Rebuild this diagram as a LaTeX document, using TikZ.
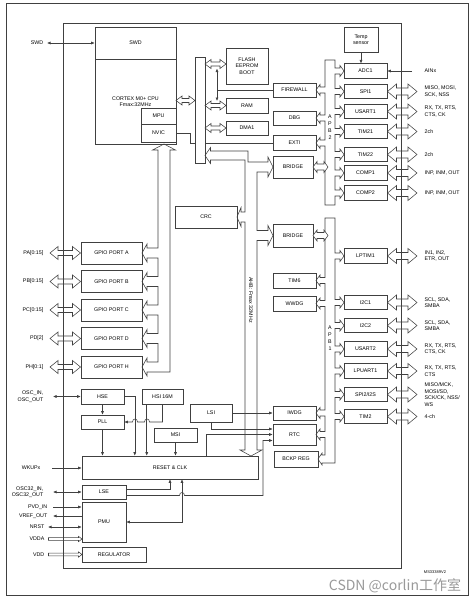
\documentclass[tikz,border=0pt]{standalone}
\usepackage{fontspec}
\setmainfont{Liberation Sans}
\newfontfamily\cjk{Noto Sans CJK SC}
\usetikzlibrary{arrows.meta}

\tikzset{
  ln/.style={draw=black!75, line width=0.55pt},
  blk/.style 2 args={ln, fill=white, inner sep=0pt, minimum width=#1, minimum height=#2,
    font=\fontsize{5.3}{6.4}\selectfont, align=center},
  lbl/.style={inner sep=0.5pt, font=\fontsize{5.3}{6.6}\selectfont},
  sig/.style={ln, -{Latex[length=3.5pt,width=3pt]}},
  sigs/.style={ln, {Latex[length=3.5pt,width=3pt]}-{Latex[length=3.5pt,width=3pt]}},
  hol/.style={ln, line join=miter},
}
% hollow double arrow: x1, x2, y, head length, head half width, shaft half width
\newcommand{\dblarr}[7][]{\draw[hol,#1] (#2,#4) -- ({#2+#5},{#4-#6}) -- ({#2+#5},{#4-#7})
  -- ({#3-#5},{#4-#7}) -- ({#3-#5},{#4-#6}) -- (#3,#4) -- ({#3-#5},{#4+#6})
  -- ({#3-#5},{#4+#7}) -- ({#2+#5},{#4+#7}) -- ({#2+#5},{#4+#6}) -- cycle;}
% thin hollow supply arrow: x1, x2, y
\newcommand{\supply}[3]{\draw[hol] (#1,{#3-1.3}) -- ({#2-3.5},{#3-1.3}) -- ({#2-3.5},{#3-2.6})
  -- (#2,#3) -- ({#2-3.5},{#3+2.6}) -- ({#2-3.5},{#3+1.3}) -- (#1,{#3+1.3}) -- cycle;}

\begin{document}
\begin{tikzpicture}[x=1pt,y=-1pt]
\useasboundingbox (0,0) rectangle (474,600);
% frames
\draw[ln] (6,3) rectangle (468,595);
\draw[ln] (63,23) rectangle (401,568);

% core and memories
\node[blk={81pt}{32pt}] (swd) at (135.5,43) {SWD};
\node[blk={81pt}{85pt}] (cpu) at (135.5,101.5) {CORTEX M0+ CPU\\Fmax:32MHz};
\node[blk={35pt}{16pt}] (mpu) at (158.5,116) {MPU};
\node[blk={35pt}{18pt}] (nvic) at (158.5,133) {NVIC};
\node[blk={42pt}{36pt}] (flash) at (247,66) {FLASH\\EEPROM\\BOOT};
\node[blk={42pt}{15pt}] (ram) at (247,105.5) {RAM};
\node[blk={42pt}{14pt}] (dma) at (247,128) {DMA1};
\node[blk={43pt}{14pt}] (firewall) at (294.5,90) {FIREWALL};
\node[blk={43pt}{14pt}] (dbg) at (294.5,118) {DBG};
\node[blk={43pt}{15pt}] (exti) at (294.5,143) {EXTI};
\node[blk={40pt}{22pt}] (bridgea) at (293,167) {BRIDGE};
\node[blk={62pt}{22pt}] (crc) at (206,217) {CRC};
\node[blk={40pt}{23pt}] (bridgeb) at (293,235.5) {BRIDGE};
\node[blk={43pt}{15pt}] (tim6) at (294.5,280.5) {TIM6};
\node[blk={43pt}{15pt}] (wwdg) at (294.5,303.5) {WWDG};
\node[blk={43pt}{14pt}] (iwdg) at (294.5,413) {IWDG};
\node[blk={43pt}{21pt}] (rtc) at (294.5,434.5) {RTC};
\node[blk={44pt}{16pt}] (bckp) at (296,459) {BCKP REG};

% NVIC to EXTI, under the bus bar
\draw[ln] (nvic.east) -- ++(14,0) |- (exti.west);
\node[blk={10pt}{106pt}] (bar) at (200,110) {};

\dblarr{176}{195}{100.5}{6}{4.5}{2}
\dblarr{205}{226}{64}{6}{4.5}{2}
\dblarr{205}{226}{105.5}{6}{4.5}{2}
\dblarr{205}{226}{128}{6}{4.5}{2}
\coordinate (fr1) at (217,68.5);
\coordinate (fr2) at (217,101);
\draw[sigs] (fr1) -- (fr2);
\draw[ln] (fr1 |- firewall.west) -- (firewall.west);

% AHB
\draw[hol] (210.5,151) -- (248,151) -- (248,162) -- (268,162) -- (268,157) -- (273,167)
  -- (268,177) -- (268,172) -- (257,172) -- (257,230.5) -- (268,230.5) -- (268,225.5)
  -- (273,235.5) -- (268,245.5) -- (268,240.5) -- (257,240.5) -- (257,450) -- (262,450)
  -- (251,456) -- (240,450) -- (245,450) -- (245,222) -- (241,222) -- (241,226.5)
  -- (237,217) -- (241,207.5) -- (241,212) -- (245,212) -- (245,160) -- (210.5,160)
  -- (210.5,163.5) -- (205,155.5) -- (210.5,147.5) -- cycle;
\node[lbl, rotate=-90] (ahb) at (251,300) {AHB: Fmax 32MHz};

% APB2
\draw[hol] (325,60) -- (335,60)
  foreach \c in {71,91.5,111.5,131.5,154.5,173,193} { -- (335,\c-3) -- (340,\c-3)
    -- (340,\c-5.5) -- (344,\c) -- (340,\c+5.5) -- (340,\c+3) -- (335,\c+3) }
  -- (335,205) -- (325,205)
  foreach \c in {143,118,90} { -- (325,\c+3) -- (320,\c+3) -- (320,\c+5.5) -- (316,\c)
    -- (320,\c-5.5) -- (320,\c-3) -- (325,\c-3) } -- cycle;
\dblarr[fill=white]{313}{328}{167}{4}{5.5}{3}
\node[lbl, align=center, inner sep=0pt, font=\fontsize{5.3}{6.8}\selectfont] (apbb) at (330,127) {A\\P\\B\\2};

% APB1
\draw[hol] (335,218) -- (325,218)
  foreach \c in {280.5,303.5,413,434.5} { -- (325,\c-3) -- (320,\c-3) -- (320,\c-5.5)
    -- (316,\c) -- (320,\c+5.5) -- (320,\c+3) -- (325,\c+3) }
  -- (325,455) -- (322,455) -- (322,453) -- (318,459) -- (322,465) -- (322,463) -- (335,463)
  foreach \c in {416.5,394.5,371,349,325.5,302.5,256} { -- (335,\c+3) -- (340,\c+3)
    -- (340,\c+5.5) -- (344,\c) -- (340,\c-5.5) -- (340,\c-3) -- (335,\c-3) } -- cycle;
\dblarr[fill=white]{313}{328}{235.5}{4}{5.5}{3}
\node[lbl, align=center, inner sep=0pt, font=\fontsize{5.3}{6.8}\selectfont] (apba) at (330,338) {A\\P\\B\\1};

% APB peripherals
\node[blk={34pt}{25pt}] (temp) at (361,39.5) {Temp\\sensor};
\foreach \n/\t/\y in {adc/ADC1/71, spi1/SPI1/91.5, usart1/USART1/111.5, tim21/TIM21/131.5,
    tim22/TIM22/154.5, comp1/COMP1/173, comp2/COMP2/193, lptim/LPTIM1/256, i2c1/I2C1/302.5,
    i2c2/I2C2/325.5, usart2/USART2/349, lpuart/LPUART1/371, spitwo/{SPI2/I2S}/394.5, tim2/TIM2/416.5}
  \node[blk={43pt}{14.5pt}] (\n) at (365.5,\y) {\t};
\draw[sig] (temp.south) -- (temp.south |- adc.north);
\foreach \y in {91.5,111.5,131.5,154.5,173,193,256,302.5,325.5,349,371,394.5,416.5}
  \dblarr{387.5}{417}{\y}{9}{7.5}{3.5};

% right pins
\node[lbl, anchor=west] (pain) at (424,71) {AINx};
\draw[sig] ([xshift=-12pt]pain.west) -- (adc.east);
\node[lbl, anchor=west, align=left] (pspi1) at (424,91.5) {MISO, MOSI,\\SCK, NSS};
\node[lbl, anchor=west, align=left] (pusart1) at (424,111.5) {RX, TX, RTS,\\CTS, CK};
\node[lbl, anchor=west] (ptim21) at (424,131.5) {2ch};
\node[lbl, anchor=west] (ptim22) at (424,154.5) {2ch};
\node[lbl, anchor=west] (pcomp1) at (424,173) {INP, INM, OUT};
\node[lbl, anchor=west] (pcomp2) at (424,193) {INP, INM, OUT};
\node[lbl, anchor=west, align=left] (plptim) at (424,256) {IN1, IN2,\\ETR, OUT};
\node[lbl, anchor=west, align=left] (pi2c1) at (424,302.5) {SCL, SDA,\\SMBA};
\node[lbl, anchor=west, align=left] (pi2c2) at (424,325.5) {SCL, SDA,\\SMBA};
\node[lbl, anchor=west, align=left] (pusart2) at (424,349) {RX, TX, RTS,\\CTS, CK};
\node[lbl, anchor=west, align=left] (plpuart) at (424,371) {RX, TX, RTS,\\CTS};
\node[lbl, anchor=west, align=left] (pspi2) at (424,394.5) {MISO/MCK,\\MOSI/SD,\\SCK/CK, NSS/\\WS};
\node[lbl, anchor=west] (ptim2) at (424,416.5) {4-ch};

% GPIO
\foreach \p/\y in {A/253, B/281.5, C/310, D/338.5, H/367}
  \node[blk={61pt}{22pt}] (gpio\p) at (111.5,\y) {GPIO PORT \p};
\draw[hol] (158,150) -- (152.5,150) -- (164,144) -- (175.5,150) -- (170,150) -- (170,372)
  -- (147,372) -- (147,376) -- (142,367) -- (147,358) -- (147,362) -- (158,362)
  foreach \c in {338.5,310,281.5,253} { -- (158,\c+5) -- (147,\c+5) -- (147,\c+9)
    -- (142,\c) -- (147,\c-9) -- (147,\c-5) -- (158,\c-5) } -- cycle;
\foreach \p/\l/\y in {A/{PA[0:15]}/253, B/{PB[0:15]}/281.5, C/{PC[0:15]}/310, D/{PD[2]}/338.5, H/{PH[0:1]}/367}
  {\node[lbl, anchor=east] (pin\p) at (44,\y) {\l};
   \dblarr{50}{80.5}{\y}{8}{6.5}{2.5}}

% SWD pin
\node[lbl, anchor=east] (pswd) at (44,43) {SWD};
\draw[sigs] ([xshift=3pt]pswd.east) -- (swd.west);

% clocks and power
\node[blk={43pt}{15pt}] (hse) at (102.5,396.5) {HSE};
\node[blk={41pt}{15pt}] (hsi) at (162.5,396.5) {HSI 16M};
\node[blk={43pt}{14pt}] (pll) at (102.5,422) {PLL};
\node[blk={42pt}{18pt}] (lsi) at (211,413) {LSI};
\node[blk={43pt}{14pt}] (msi) at (175.5,435) {MSI};
\node[blk={176pt}{23pt}] (rcc) at (170,467.5) {RESET \& CLK};
\node[blk={44pt}{14pt}] (lse) at (104,492) {LSE};
\node[blk={44pt}{40pt}] (pmu) at (104,522) {PMU};
\node[blk={64pt}{15pt}] (reg) at (114,554.5) {REGULATOR};

\draw[sig] (hse) -- (pll);
\draw[sig] (hse.east) -- ++(10.5,0) coordinate (h1) -- (h1 |- rcc.north);
\draw[sig] ([xshift=5pt]hsi.south west) coordinate (h2) -- (h2 |- rcc.north);
\draw[sig] (hsi.south) -- (162.5,422) -- (149.5,422) .. controls (149.5,418) and (144.5,418) .. (144.5,422)
  -- (137.5,422) .. controls (137.5,418) and (132.5,418) .. (132.5,422) -- (pll.east);
\draw[sig] (pll.south) -- (pll.south |- rcc.north);
\draw[sig] (msi.south) -- (msi.south |- rcc.north);
\draw[sig] (lsi.east) -- (lsi.east -| iwdg.west);
\draw[sig] (lsi.south) |- ([yshift=5.5pt]rtc.west);
\draw[sig] ([xshift=125pt]rcc.north west) |- (rtc.west);
\draw[sig] ([yshift=-3.5pt]lse.east) -- (179.5,495.5) .. controls (179.5,491.5) and (184.5,491.5) .. (184.5,495.5)
  -- (263,495.5) |- ([yshift=-6pt]rtc.west);
\draw[sig] ([yshift=2.5pt]lse.east) -| (rcc.south);
\draw[sigs] (pmu.east) -| ([xshift=12pt]rcc.south);

% left pins
\node[lbl, anchor=east, align=right] (posc) at (44,396.5) {OSC\_IN,\\OSC\_OUT};
\draw[sigs] ([xshift=9pt]posc.east) -- (hse.west);
\node[lbl, anchor=east] (pwk) at (41,468) {WKUPx};
\draw[sig] ([xshift=11pt]pwk.east) -- (pwk.east -| rcc.west);
\node[lbl, anchor=east, align=right] (posc32) at (44,492) {OSC32\_IN,\\OSC32\_OUT};
\draw[sigs] ([xshift=9pt]posc32.east) -- (lse.west);
\node[lbl, anchor=east] (ppvd) at (48,507) {PVD\_IN};
\draw[sig] ([xshift=5pt]ppvd.east) -- (ppvd.east -| pmu.west);
\node[lbl, anchor=east] (pvref) at (48,516) {VREF\_OUT};
\draw[sig] (pvref.east -| pmu.west) -- ([xshift=5pt]pvref.east);
\node[lbl, anchor=east] (pnrst) at (45,527) {NRST};
\draw[sigs] ([xshift=3pt]pnrst.east) -- (pnrst.east -| pmu.west);
\node[lbl, anchor=east] (pvdda) at (45,539) {VDDA};
\supply{48.5}{82}{539}
\node[lbl, anchor=east] (pvdd) at (45,554.5) {VDD};
\supply{48.5}{82}{554.5}

\node[inner sep=0pt, font=\fontsize{4}{4}\selectfont] (msid) at (435,572) {MS33389V2};
\node[inner sep=0pt, text=black!40, font=\cjk\fontsize{14}{14}\selectfont] (wm) at (395,586) {CSDN @corlin工作室};
\end{tikzpicture}
\end{document}
